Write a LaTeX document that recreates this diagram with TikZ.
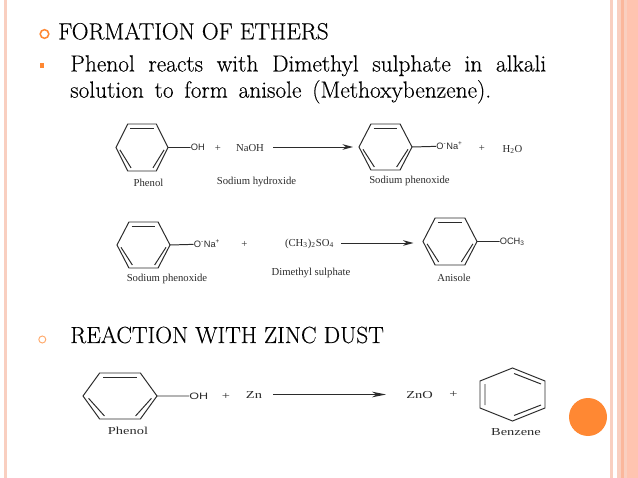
\documentclass[tikz,border=0pt]{standalone}
\usetikzlibrary{arrows.meta}
\usepackage{fontspec}
\newfontfamily\chemserif{Liberation Serif}
\newfontfamily\chemsans{Liberation Sans}
\newfontfamily\headfont[FakeBold=0.35]{Latin Modern Roman}
\definecolor{stripea}{HTML}{F9CFC0}
\definecolor{stripeb}{HTML}{FBB79C}
\definecolor{stripec}{HTML}{FFC4B0}
\definecolor{dotorange}{HTML}{FF8833}
\definecolor{inkgray}{HTML}{2B2B2B}
\tikzset{
	bond/.style={line width=0.7pt,inkgray},
	rxn/.style={line width=0.7pt,inkgray,-{Stealth[length=7.5pt,width=4pt]}},
	rxnlong/.style={rxn,-{Stealth[length=10pt,width=4pt]}},
	head/.style={anchor=base west,inner sep=0pt,font=\headfont\fontsize{16.6}{18.6}\selectfont},
	lbl/.style={inner sep=0pt,font=\chemserif\fontsize{7.6}{9}\selectfont,inkgray},
	atom/.style={inner sep=0pt,font=\chemsans\fontsize{6.6}{8}\selectfont,inkgray},
	wide/.style={transform shape,xscale=1.35}
}
\begin{document}
\begin{tikzpicture}[x=0.025cm,y=-0.025cm,>=stealth]
	\useasboundingbox (0,0) rectangle (638,478);
	% side stripes
	\fill[stripea] (3.5,0) rectangle (7,478);
	\fill[stripea] (610,0) rectangle (612.7,478);
	\fill[stripea] (616.7,0) rectangle (638,478);
	\fill[stripeb] (621,0) rectangle (623.5,478);
	\fill[stripec] (627,0) rectangle (638,478);
	\fill[dotorange] (588,417) circle (19);
	% bullets
	\draw[dotorange,line width=1.1pt] (44.5,34) circle (4.3);
	\fill[dotorange] (39.5,63) rectangle (43.8,67.8);
	\draw[dotorange!70,line width=0.7pt] (42.3,339.5) circle (3.5);
	% text
	\node[head] (title) at (58,39.3) {FORMATION OF ETHERS};
	\node[head,text width=476*0.025cm,align=justify,anchor=north west] (para) at (70,55) {Phenol reacts with Dimethyl sulphate in alkali\linebreak \makebox[10.52cm][s]{solution to form anisole (Methoxybenzene).}};
	\node[head] (zinc) at (70,343) {REACTION WITH ZINC DUST};
	% flat rings
	\foreach \nm/\cx/\cy/\rx/\ry in {ringa/142/147.5/26/23.5,ringb/385.5/147/26.5/23,ringc/143.5/245/26.5/23,ringd/450/241.5/27/23.5,ringe/120/396/37/23}
	{
		\draw[bond] ({\cx-\rx},\cy)--({\cx-.55*\rx},{\cy-\ry})--({\cx+.55*\rx},{\cy-\ry})--({\cx+\rx},\cy)--({\cx+.55*\rx},{\cy+\ry})--({\cx-.55*\rx},{\cy+\ry})--cycle;
		\draw[bond] ({\cx-.45*\rx},{\cy-.82*\ry})--({\cx+.45*\rx},{\cy-.82*\ry});
		\draw[bond] ({\cx+.85*\rx},{\cy+.1*\ry})--({\cx+.42*\rx},{\cy+.87*\ry});
		\draw[bond] ({\cx-.85*\rx},{\cy+.1*\ry})--({\cx-.42*\rx},{\cy+.87*\ry});
		\coordinate (\nm) at ({\cx+\rx},\cy);
	}
	% benzene
	\draw[bond] (512.5,368)--(545,381)--(545,408)--(512.5,421)--(480,408)--(480,381)--cycle;
	\draw[bond] (485,384)--(485,405) (514,373.5)--(541,384) (514,415.5)--(541,405);
	% atoms
	\node[atom,anchor=west] (oha) at (190.5,147.5) {OH};
	\node[atom,anchor=west] (ona) at (436,146) {O\textsuperscript{-}Na\textsuperscript{+}};
	\node[atom,anchor=west] (onb) at (193.5,244) {O\textsuperscript{-}Na\textsuperscript{+}};
	\node[atom,anchor=west] (och) at (499.5,241.5) {OCH\textsubscript{3}};
	\node[atom,anchor=west,wide] (ohb) at (189,396) {OH};
	\draw[bond] (ringa)--(oha) (ringb)--(ona) (ringc)--(onb) (ringd)--(och) (ringe)--(ohb);
	% labels
	\foreach \nm/\tx/\ty/\txt in {pha/148.5/183/Phenol,sha/256.5/181.5/Sodium hydroxide,spa/409.5/181/Sodium phenoxide,spb/167/278.5/Sodium phenoxide,dms/311/273/Dimethyl sulphate,ani/454/278/Anisole,naoh/250/148/NaOH,plusa/218/148/+,plusb/482/148/+,plusc/244.5/244.5/+}
	{
		\node[lbl] (\nm) at (\tx,\ty) {\txt};
	}
	\node[lbl] (water) at (512.5,149.5) {H\textsubscript{2}O};
	\node[lbl] (dmsf) at (309.5,244) {(CH\textsubscript{3})\textsubscript{2}SO\textsubscript{4}};
	\foreach \nm/\tx/\ty/\txt in {phb/128/431/Phenol,zn/254/395/Zn,pluse/226/396/+,zno/419.5/395.5/ZnO,plusf/453.5/394.5/+,bz/516/432.5/Benzene}
	{
		\node[lbl,wide] (\nm) at (\tx,\ty) {\txt};
	}
	% arrows
	\coordinate (arra) at (273,147);
	\coordinate (arrb) at (353,147);
	\coordinate (arrc) at (341,243);
	\coordinate (arrd) at (413.5,243);
	\coordinate (arre) at (273,394.5);
	\coordinate (arrf) at (386,394.5);
	\draw[rxn] (arra)--(arrb);
	\draw[rxn] (arrc)--(arrd);
	\draw[rxnlong] (arre)--(arrf);
\end{tikzpicture}
\end{document}
